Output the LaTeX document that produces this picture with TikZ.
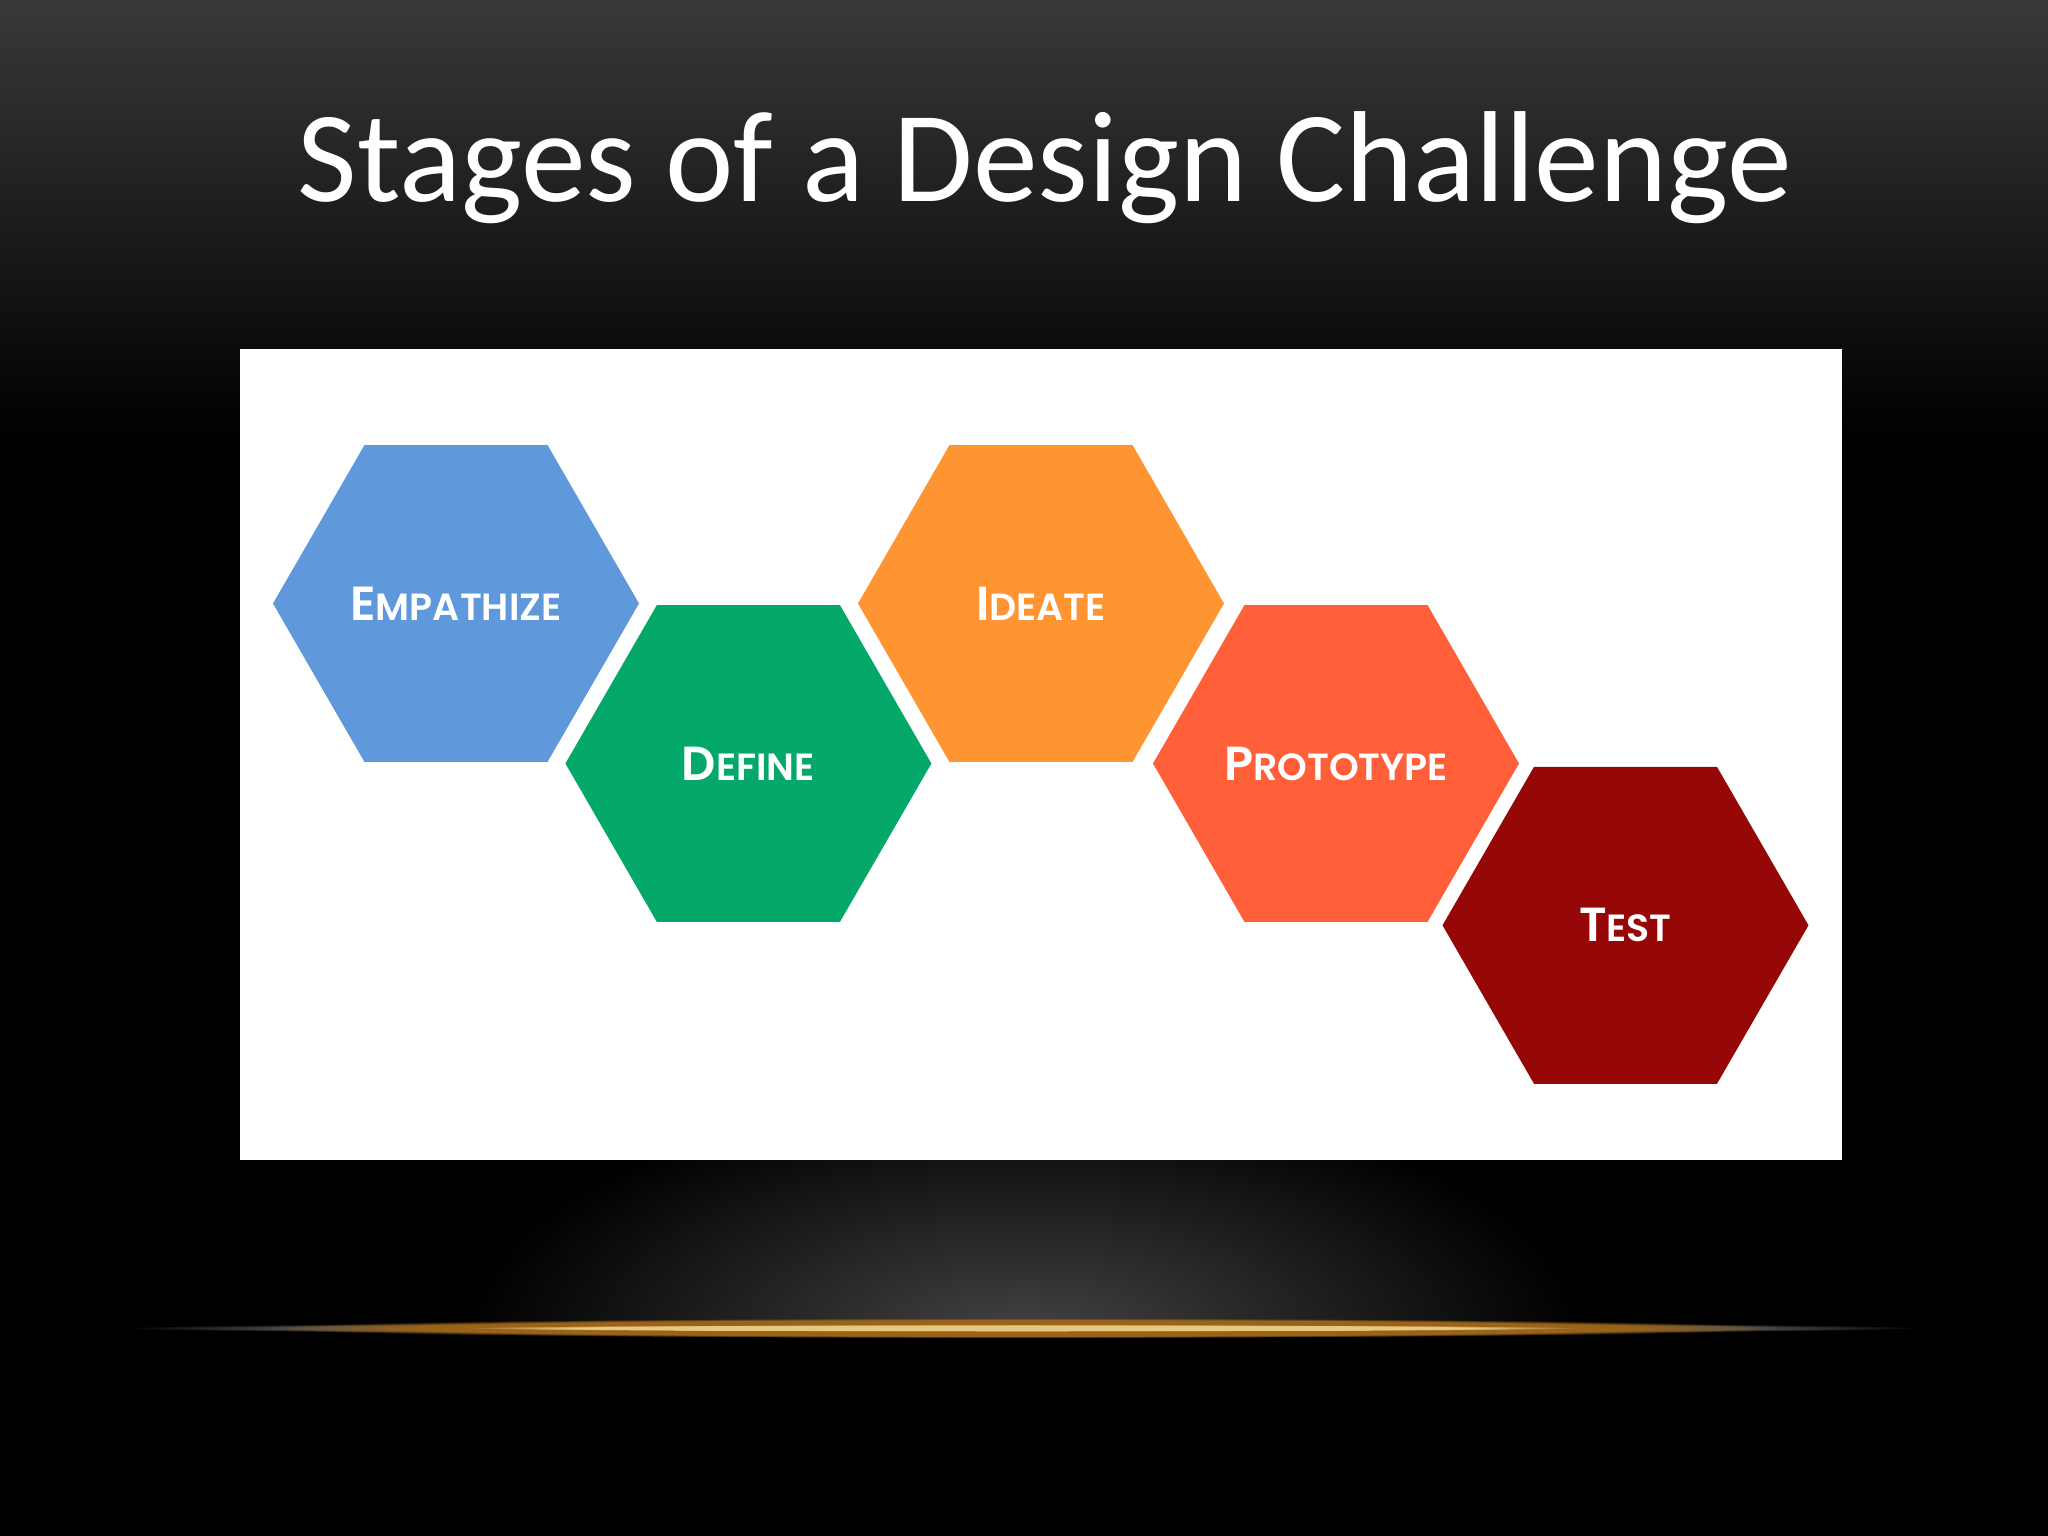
\documentclass[tikz,border=0pt]{standalone}
\usepackage{fontspec}
\setmainfont{Carlito}
\newfontfamily\hexfont{Poppins}[BoldFont={* SemiBold}]
\usetikzlibrary{shapes.geometric,fadings}
\definecolor{bgtop}{HTML}{393939}
\definecolor{glowgray}{HTML}{444444}
\definecolor{goldout}{HTML}{9A6418}
\definecolor{goldin}{HTML}{E8C880}
\definecolor{linegray}{HTML}{505050}
\definecolor{cEmp}{HTML}{5F98DB}
\definecolor{cDef}{HTML}{04A868}
\definecolor{cIde}{HTML}{FF9433}
\definecolor{cPro}{HTML}{FF603A}
\definecolor{cTes}{HTML}{960808}
\newcommand\hexlbl[2]{{\fontsize{48}{50}\selectfont #1}{\fontsize{38}{40}\selectfont #2}}
\tikzset{
  hex/.style={regular polygon, regular polygon sides=6, minimum size=366bp,
    inner sep=0pt, outer sep=0pt, draw=none, text=white, font=\hexfont\bfseries},
}
\begin{document}
\begin{tikzpicture}[x=1bp,y=-1bp]
\useasboundingbox (0,0) rectangle (2048,1536);
\fill[black] (0,0) rectangle (2048,1536);
\shade[top color=bgtop, bottom color=black] (0,0) rectangle (2048,440);
% glow
\begin{scope}
\clip (0,1000) rectangle (2048,1328);
\shade[inner color=glowgray, outer color=black] (1024,1340) ellipse [x radius=560, y radius=250];
\end{scope}
\fill[linegray, path fading=circle with fuzzy edge 20 percent] (1024,1328) ellipse [x radius=900, y radius=6];
\fill[goldout, path fading=circle with fuzzy edge 20 percent] (1024,1328) ellipse [x radius=760, y radius=10];
\fill[goldin, path fading=circle with fuzzy edge 20 percent] (1024,1328) ellipse [x radius=560, y radius=3.5];
% title
\node[text=white, font=\fontsize{130}{140}\selectfont, anchor=base, inner sep=0pt] (title) at (1045,202) {Stages of a Design Challenge};
% panel
\fill[white] (240,349) rectangle (1842,1160);
% hexagons
\node[hex, fill=cEmp] (emp) at (456,603.5) {\hexlbl{E}{MPATHIZE}};
\node[hex, fill=cDef] (def) at (748.4,763.5) {\hexlbl{D}{EFINE}};
\node[hex, fill=cIde] (ide) at (1041,603.5) {\hexlbl{I}{DEATE}};
\node[hex, fill=cPro] (pro) at (1336,763.5) {\hexlbl{P}{ROTOTYPE}};
\node[hex, fill=cTes] (tes) at (1625.5,925.3) {\hexlbl{T}{EST}};
\end{tikzpicture}
\end{document}
